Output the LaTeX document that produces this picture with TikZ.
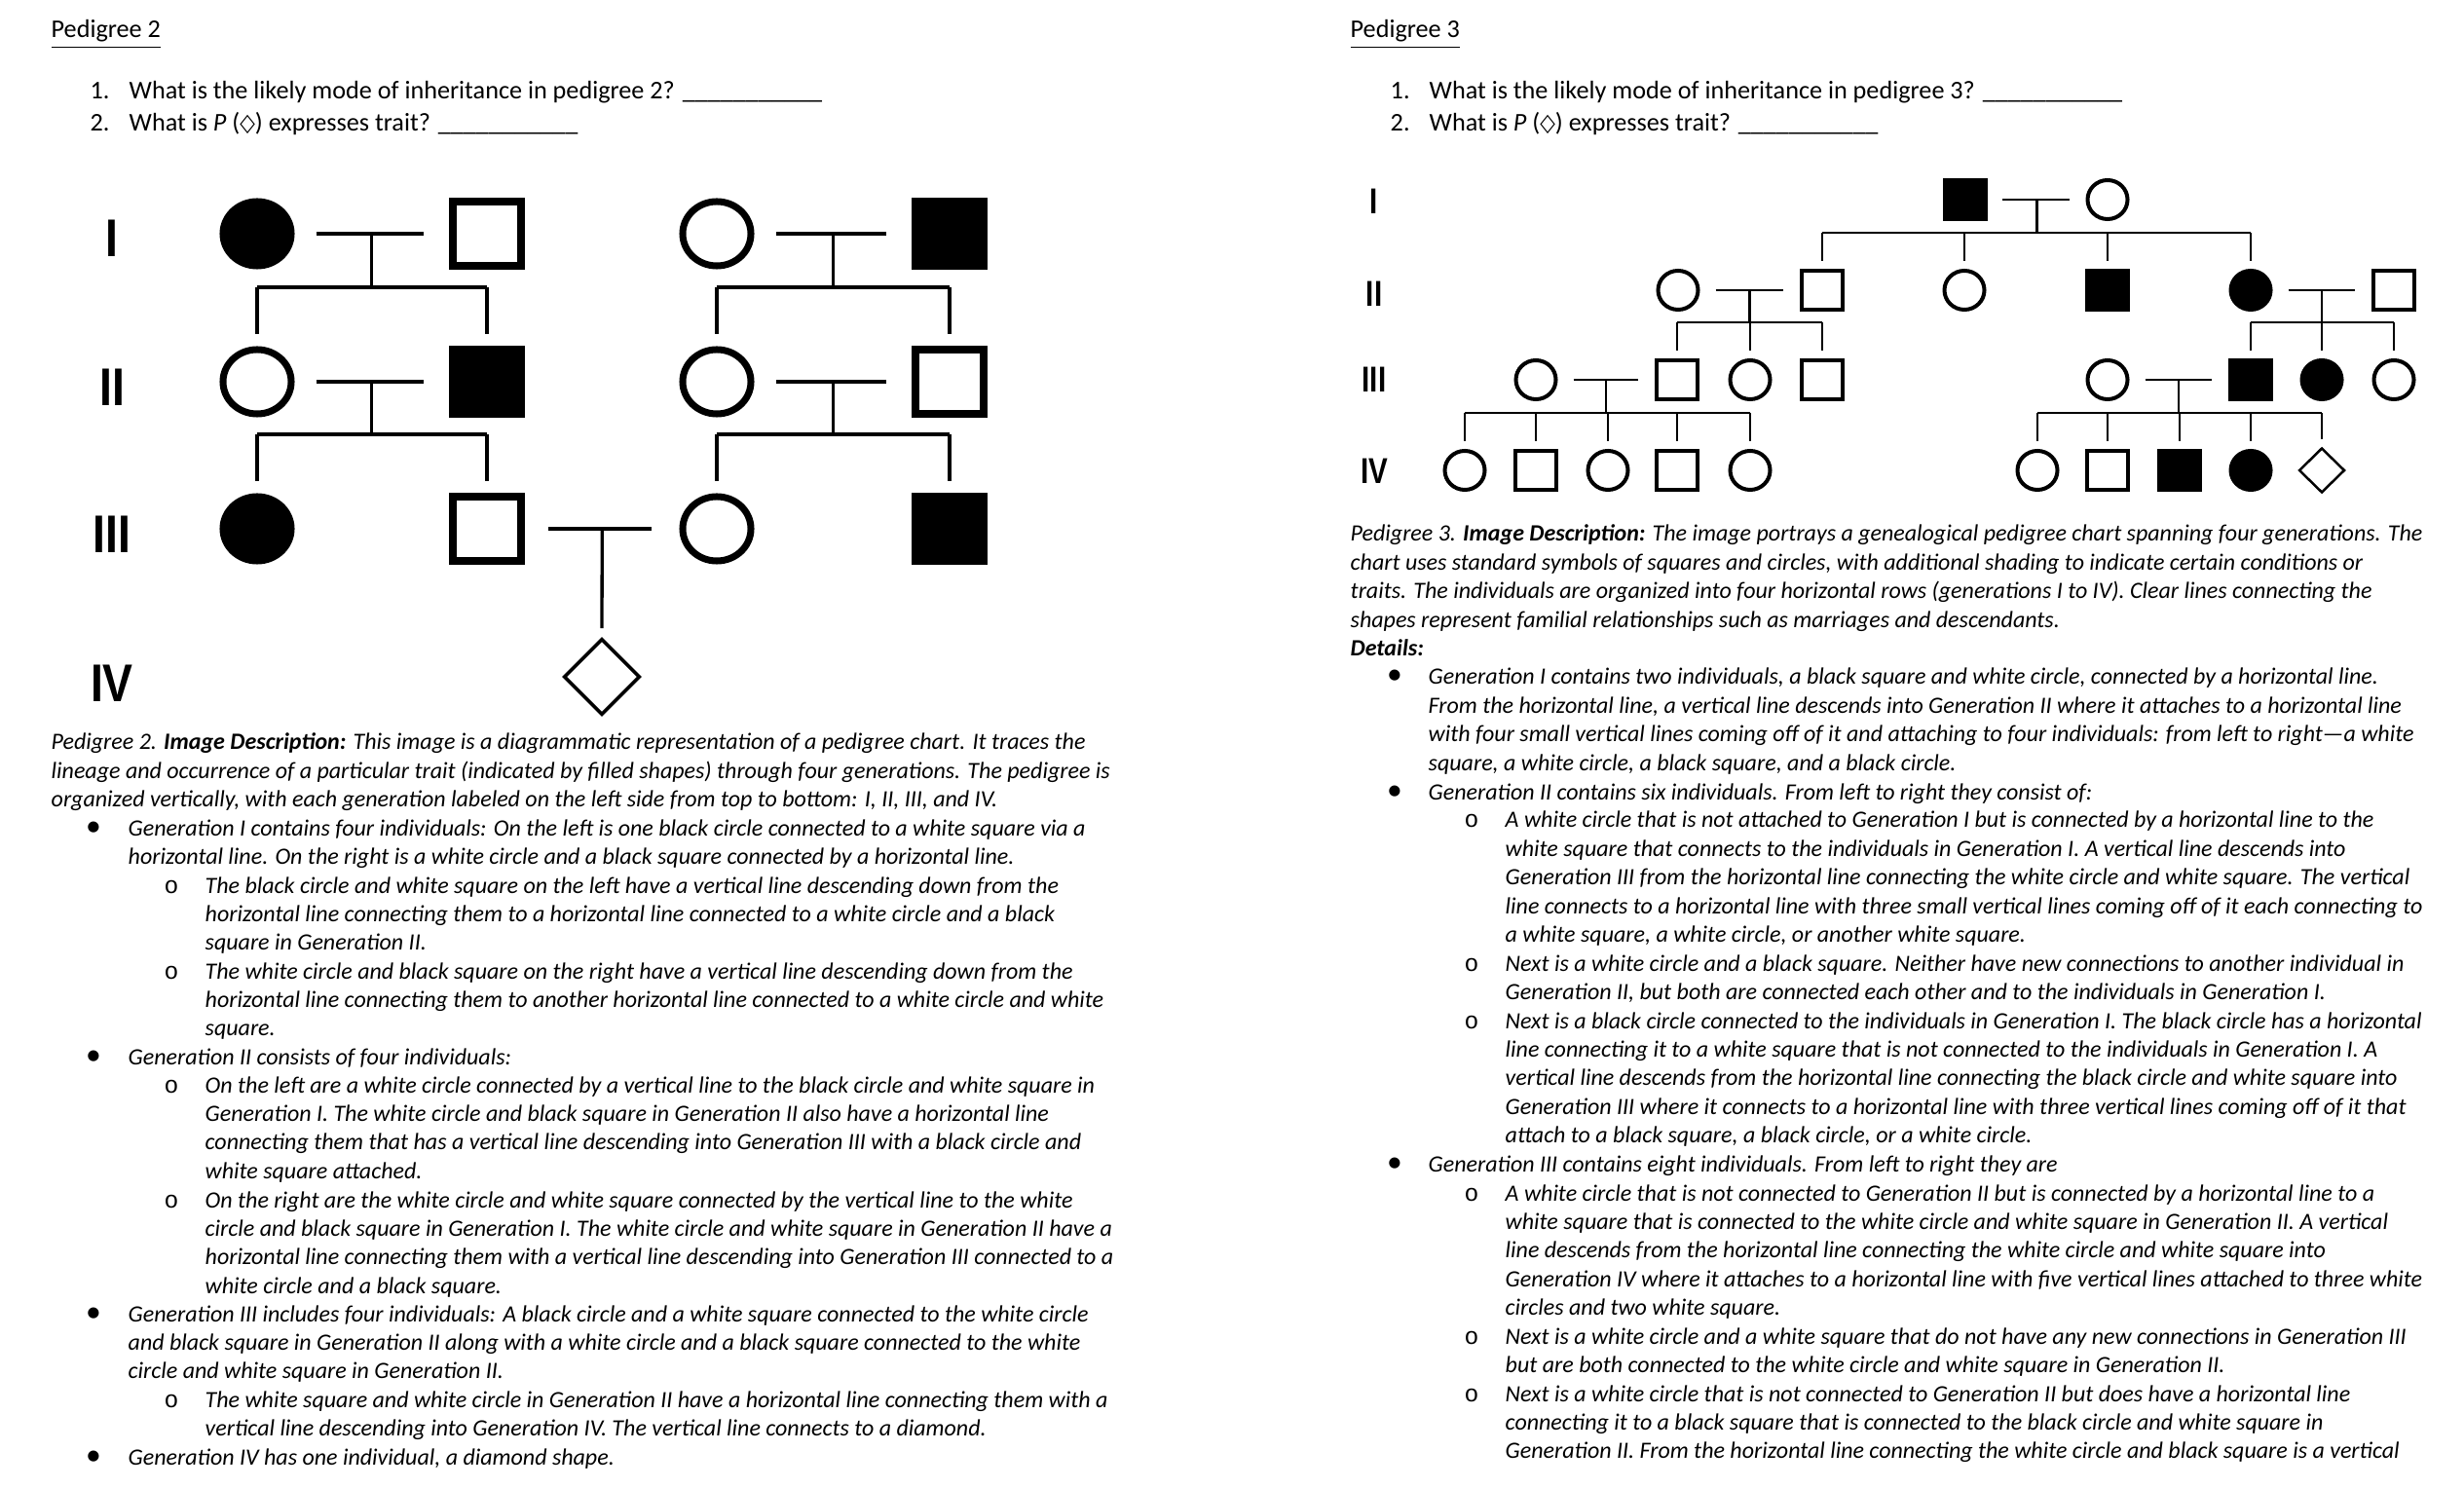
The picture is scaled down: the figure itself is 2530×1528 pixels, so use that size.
\documentclass[tikz,border=0pt]{standalone}
\usepackage{fontspec}
\setmainfont{Carlito}
\newfontfamily\romfont{Liberation Sans}
\newfontfamily\diafont{DejaVu Sans}
\newfontfamily\cnfont{Liberation Mono}
\usetikzlibrary{calc, shapes.geometric}

\newcommand{\bodyfont}{\fontsize{6.82}{8.35}\selectfont\itshape}
\newcommand{\ptext}[1]{\begin{tabular}[t]{@{}l@{}}#1\end{tabular}}
\newcommand{\blank}{\_\_\_\_\_\_\_\_\_\_\_}
\newcommand{\dia}{\scalebox{.8}[1]{\diafont\fontsize{7.2}{8}\selectfont ◇}}

\tikzset{
  ind/.style={draw=black, fill=white, inner sep=0pt},
  aff/.style={fill=black},
  sqA/.style={ind, rectangle, minimum width=0.70cm, minimum height=0.65cm, line width=0.08cm},
  ciA/.style={ind, ellipse, minimum width=0.70cm, minimum height=0.66cm, line width=0.07cm},
  dmA/.style={ind, diamond, minimum width=0.78cm, minimum height=0.78cm, line width=0.035cm},
  sqB/.style={ind, rectangle, minimum width=0.42cm, minimum height=0.40cm, line width=0.045cm},
  ciB/.style={ind, ellipse, minimum width=0.41cm, minimum height=0.40cm, line width=0.04cm},
  dmB/.style={ind, diamond, minimum width=0.47cm, minimum height=0.46cm, line width=0.025cm},
  relA/.style={line width=0.033cm},
  relB/.style={line width=0.025cm},
  genA/.style={font=\romfont\bfseries\fontsize{15.5}{16}\selectfont, inner sep=0pt},
  genB/.style={font=\romfont\bfseries\fontsize{10.5}{11}\selectfont, inner sep=0pt},
  desc/.style={anchor=base west, inner sep=0pt, font=\bodyfont},
  uprt/.style={anchor=base west, inner sep=0pt, font=\fontsize{7.45}{8.9}\selectfont},
  blt/.style={anchor=base, inner sep=0pt, font=\fontsize{9}{8.35}\selectfont},
  obul/.style={anchor=base, inner sep=0pt, font=\cnfont\fontsize{7}{8.35}\selectfont},
}

\begin{document}
\begin{tikzpicture}[x=0.01cm, y=-0.01cm]
\path[use as bounding box, fill=white] (0,0) rectangle (2530,1528);

% questions
\node[uprt] (h2) at (52,39) {\underline{Pedigree 2}};
\node[uprt] (q2an) at (92,102) {1.};
\node[uprt] (q2a) at (132,102) {What is the likely mode of inheritance in pedigree 2? \blank};
\node[uprt] (q2bn) at (92,135) {2.};
\node[uprt] (q2b) at (132,135) {What is \textit{P} (\dia) expresses trait? \blank};

\node[uprt] (h3) at (1386,39) {\underline{Pedigree 3}};
\node[uprt] (q3an) at (1427,102) {1.};
\node[uprt] (q3a) at (1467,102) {What is the likely mode of inheritance in pedigree 3? \blank};
\node[uprt] (q3bn) at (1427,135) {2.};
\node[uprt] (q3b) at (1467,135) {What is \textit{P} (\dia) expresses trait? \blank};

% pedigree 2
\node[genA] (gL1) at (115,245) {\scalebox{.85}[1]{I}};
\node[genA] (gL2) at (115,398) {\scalebox{.85}[1]{II}};
\node[genA] (gL3) at (115,549) {\scalebox{.85}[1]{III}};
\node[genA] (gL4) at (115,702) {\scalebox{.85}[1]{IV}};

\node[ciA, aff] (L11) at (264,240) {};
\node[sqA] (L12) at (500,240) {};
\node[ciA] (L13) at (736,240) {};
\node[sqA, aff] (L14) at (975,240) {};
\node[ciA] (L21) at (264,392) {};
\node[sqA, aff] (L22) at (500,392) {};
\node[ciA] (L23) at (736,392) {};
\node[sqA] (L24) at (975,392) {};
\node[ciA, aff] (L31) at (264,543) {};
\node[sqA] (L32) at (500,543) {};
\node[ciA] (L33) at (736,543) {};
\node[sqA, aff] (L34) at (975,543) {};
\node[dmA] (L41) at (618,695) {};

\draw[relA, shorten <=2.2mm, shorten >=2.6mm] (L11) -- (L12);
\coordinate (mL1) at ($(L11.east)!.5!(L12.west)$);
\draw[relA] (mL1) -- ++(0,55) coordinate (sL1);
\draw[relA] (sL1 -| L21) -- (sL1 -| L22);
\foreach \k in {L21,L22}{
  \draw[relA, shorten >=1.2mm] (sL1 -| \k) -- (\k.north);
}
\draw[relA, shorten <=2.2mm, shorten >=2.6mm] (L13) -- (L14);
\coordinate (mL2) at ($(L13.east)!.5!(L14.west)$);
\draw[relA] (mL2) -- ++(0,55) coordinate (sL2);
\draw[relA] (sL2 -| L23) -- (sL2 -| L24);
\foreach \k in {L23,L24}{
  \draw[relA, shorten >=1.2mm] (sL2 -| \k) -- (\k.north);
}
\draw[relA, shorten <=2.2mm, shorten >=2.6mm] (L21) -- (L22);
\coordinate (mL3) at ($(L21.east)!.5!(L22.west)$);
\draw[relA] (mL3) -- ++(0,54) coordinate (sL3);
\draw[relA] (sL3 -| L31) -- (sL3 -| L32);
\foreach \k in {L31,L32}{
  \draw[relA, shorten >=1.2mm] (sL3 -| \k) -- (\k.north);
}
\draw[relA, shorten <=2.2mm, shorten >=2.6mm] (L23) -- (L24);
\coordinate (mL4) at ($(L23.east)!.5!(L24.west)$);
\draw[relA] (mL4) -- ++(0,54) coordinate (sL4);
\draw[relA] (sL4 -| L33) -- (sL4 -| L34);
\foreach \k in {L33,L34}{
  \draw[relA, shorten >=1.2mm] (sL4 -| \k) -- (\k.north);
}
\draw[relA, shorten <=2.4mm, shorten >=2.8mm] (L32) -- (L33);
\coordinate (mL5) at ($(L32.east)!.5!(L33.west)$);
\draw[relA, shorten >=0.9mm] (mL5) -- (L41.north);

% pedigree 3
\node[genB] (gR1) at (1411,207) {\scalebox{.8}[1]{I}};
\node[genB] (gR2) at (1411,302) {\scalebox{.8}[1]{II}};
\node[genB] (gR3) at (1411,390) {\scalebox{.8}[1]{III}};
\node[genB] (gR4) at (1411,484) {\scalebox{.8}[1]{IV}};

\node[sqB, aff] (R11) at (2018,205) {};
\node[ciB] (R12) at (2164,205) {};
\node[ciB] (R21) at (1723,298) {};
\node[sqB] (R22) at (1871,298) {};
\node[ciB] (R23) at (2017,298) {};
\node[sqB, aff] (R24) at (2164,298) {};
\node[ciB, aff] (R25) at (2311,298) {};
\node[sqB] (R26) at (2458,298) {};
\node[ciB] (R31) at (1577,390) {};
\node[sqB] (R32) at (1722,390) {};
\node[ciB] (R33) at (1797,390) {};
\node[sqB] (R34) at (1871,390) {};
\node[ciB] (R35) at (2164,390) {};
\node[sqB, aff] (R36) at (2311,390) {};
\node[ciB, aff] (R37) at (2384,390) {};
\node[ciB] (R38) at (2458,390) {};
\node[ciB] (R41) at (1504,483) {};
\node[sqB] (R42) at (1577,483) {};
\node[ciB] (R43) at (1651,483) {};
\node[sqB] (R44) at (1722,483) {};
\node[ciB] (R45) at (1797,483) {};
\node[ciB] (R46) at (2092,483) {};
\node[sqB] (R47) at (2164,483) {};
\node[sqB, aff] (R48) at (2238,483) {};
\node[ciB, aff] (R49) at (2311,483) {};
\node[dmB] (R410) at (2384,483) {};

\draw[relB, shorten <=1.5mm, shorten >=1.7mm] (R11) -- (R12);
\coordinate (mR1) at ($(R11.east)!.5!(R12.west)$);
\draw[relB] (mR1) -- ++(0,34) coordinate (sR1);
\draw[relB] (sR1 -| R22) -- (sR1 -| R25);
\foreach \k in {R22,R23,R24,R25}{
  \draw[relB, shorten >=0.8mm] (sR1 -| \k) -- (\k.north);
}
\draw[relB, shorten <=1.6mm, shorten >=1.7mm] (R21) -- (R22);
\coordinate (mR2) at ($(R21.east)!.5!(R22.west)$);
\draw[relB] (mR2) -- ++(0,33) coordinate (sR2);
\draw[relB] (sR2 -| R32) -- (sR2 -| R34);
\foreach \k in {R32,R33,R34}{
  \draw[relB, shorten >=0.8mm] (sR2 -| \k) -- (\k.north);
}
\draw[relB, shorten <=1.6mm, shorten >=1.7mm] (R25) -- (R26);
\coordinate (mR3) at ($(R25.east)!.5!(R26.west)$);
\draw[relB] (mR3) -- ++(0,33) coordinate (sR3);
\draw[relB] (sR3 -| R36) -- (sR3 -| R38);
\foreach \k in {R36,R37,R38}{
  \draw[relB, shorten >=0.8mm] (sR3 -| \k) -- (\k.north);
}
\draw[relB, shorten <=1.6mm, shorten >=1.7mm] (R31) -- (R32);
\coordinate (mR4) at ($(R31.east)!.5!(R32.west)$);
\draw[relB] (mR4) -- ++(0,34) coordinate (sR4);
\draw[relB] (sR4 -| R41) -- (sR4 -| R45);
\foreach \k in {R41,R42,R43,R44,R45}{
  \draw[relB, shorten >=0.8mm] (sR4 -| \k) -- (\k.north);
}
\draw[relB, shorten <=1.6mm, shorten >=1.7mm] (R35) -- (R36);
\coordinate (mR5) at ($(R35.east)!.5!(R36.west)$);
\draw[relB] (mR5) -- ++(0,34) coordinate (sR5);
\draw[relB] (sR5 -| R46) -- (sR5 -| R410);
\foreach \k in {R46,R47,R48,R49,R410}{
  \draw[relB, shorten >=0.8mm] (sR5 -| \k) -- (\k.north);
}

% description of pedigree 2
\node[desc] (d2) at (52,770) {\ptext{Pedigree 2. \textbf{Image Description:} This image is a diagrammatic representation of a pedigree chart. It traces the\\
lineage and occurrence of a particular trait (indicated by filled shapes) through four generations. The pedigree is\\
organized vertically, with each generation labeled on the left side from top to bottom: I, II, III, and IV.}};
\node[blt] (d2b1) at (96,858) {•};
\node[desc] (d2t1) at (131,858) {\ptext{Generation I contains four individuals: On the left is one black circle connected to a white square via a\\
horizontal line. On the right is a white circle and a black square connected by a horizontal line.}};
\node[obul] (d2o1) at (176,917) {o};
\node[desc] (d2s1) at (210,917) {\ptext{The black circle and white square on the left have a vertical line descending down from the\\
horizontal line connecting them to a horizontal line connected to a white circle and a black\\
square in Generation II.}};
\node[obul] (d2o2) at (176,1005) {o};
\node[desc] (d2s2) at (210,1005) {\ptext{The white circle and black square on the right have a vertical line descending down from the\\
horizontal line connecting them to another horizontal line connected to a white circle and white\\
square.}};
\node[blt] (d2b2) at (96,1093) {•};
\node[desc] (d2t2) at (131,1093) {\ptext{Generation II consists of four individuals:}};
\node[obul] (d2o3) at (176,1122) {o};
\node[desc] (d2s3) at (210,1122) {\ptext{On the left are a white circle connected by a vertical line to the black circle and white square in\\
Generation I. The white circle and black square in Generation II also have a horizontal line\\
connecting them that has a vertical line descending into Generation III with a black circle and\\
white square attached.}};
\node[obul] (d2o4) at (176,1240) {o};
\node[desc] (d2s4) at (210,1240) {\ptext{On the right are the white circle and white square connected by the vertical line to the white\\
circle and black square in Generation I. The white circle and white square in Generation II have a\\
horizontal line connecting them with a vertical line descending into Generation III connected to a\\
white circle and a black square.}};
\node[blt] (d2b3) at (96,1357) {•};
\node[desc] (d2t3) at (131,1357) {\ptext{Generation III includes four individuals: A black circle and a white square connected to the white circle\\
and black square in Generation II along with a white circle and a black square connected to the white\\
circle and white square in Generation II.}};
\node[obul] (d2o5) at (176,1445) {o};
\node[desc] (d2s5) at (210,1445) {\ptext{The white square and white circle in Generation II have a horizontal line connecting them with a\\
vertical line descending into Generation IV. The vertical line connects to a diamond.}};
\node[blt] (d2b4) at (96,1504) {•};
\node[desc] (d2t4) at (131,1504) {\ptext{Generation IV has one individual, a diamond shape.}};

% description of pedigree 3
\node[desc] (d3) at (1386,556) {\ptext{Pedigree 3. \textbf{Image Description:} The image portrays a genealogical pedigree chart spanning four generations. The\\
chart uses standard symbols of squares and circles, with additional shading to indicate certain conditions or\\
traits. The individuals are organized into four horizontal rows (generations I to IV). Clear lines connecting the\\
shapes represent familial relationships such as marriages and descendants.\\
\textbf{Details:}}};
\node[blt] (d3b1) at (1432,703) {•};
\node[desc] (d3t1) at (1466,703) {\ptext{Generation I contains two individuals, a black square and white circle, connected by a horizontal line.\\
From the horizontal line, a vertical line descends into Generation II where it attaches to a horizontal line\\
with four small vertical lines coming off of it and attaching to four individuals: from left to right---a white\\
square, a white circle, a black square, and a black circle.}};
\node[blt] (d3b2) at (1432,821) {•};
\node[desc] (d3t2) at (1466,821) {\ptext{Generation II contains six individuals. From left to right they consist of:}};
\node[obul] (d3o1) at (1511,850) {o};
\node[desc] (d3s1) at (1545,850) {\ptext{A white circle that is not attached to Generation I but is connected by a horizontal line to the\\
white square that connects to the individuals in Generation I. A vertical line descends into\\
Generation III from the horizontal line connecting the white circle and white square. The vertical\\
line connects to a horizontal line with three small vertical lines coming off of it each connecting to\\
a white square, a white circle, or another white square.}};
\node[obul] (d3o2) at (1511,997) {o};
\node[desc] (d3s2) at (1545,997) {\ptext{Next is a white circle and a black square. Neither have new connections to another individual in\\
Generation II, but both are connected each other and to the individuals in Generation I.}};
\node[obul] (d3o3) at (1511,1056) {o};
\node[desc] (d3s3) at (1545,1056) {\ptext{Next is a black circle connected to the individuals in Generation I. The black circle has a horizontal\\
line connecting it to a white square that is not connected to the individuals in Generation I. A\\
vertical line descends from the horizontal line connecting the black circle and white square into\\
Generation III where it connects to a horizontal line with three vertical lines coming off of it that\\
attach to a black square, a black circle, or a white circle.}};
\node[blt] (d3b3) at (1432,1203) {•};
\node[desc] (d3t3) at (1466,1203) {\ptext{Generation III contains eight individuals. From left to right they are}};
\node[obul] (d3o4) at (1511,1233) {o};
\node[desc] (d3s4) at (1545,1233) {\ptext{A white circle that is not connected to Generation II but is connected by a horizontal line to a\\
white square that is connected to the white circle and white square in Generation II. A vertical\\
line descends from the horizontal line connecting the white circle and white square into\\
Generation IV where it attaches to a horizontal line with five vertical lines attached to three white\\
circles and two white square.}};
\node[obul] (d3o5) at (1511,1380) {o};
\node[desc] (d3s5) at (1545,1380) {\ptext{Next is a white circle and a white square that do not have any new connections in Generation III\\
but are both connected to the white circle and white square in Generation II.}};
\node[obul] (d3o6) at (1511,1439) {o};
\node[desc] (d3s6) at (1545,1439) {\ptext{Next is a white circle that is not connected to Generation II but does have a horizontal line\\
connecting it to a black square that is connected to the black circle and white square in\\
Generation II. From the horizontal line connecting the white circle and black square is a vertical}};
\end{tikzpicture}
\end{document}
